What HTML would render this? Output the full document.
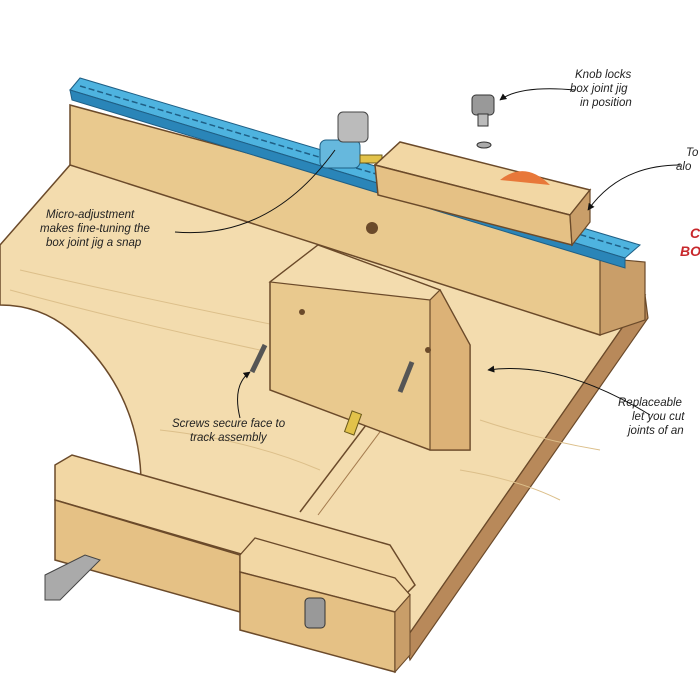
<!DOCTYPE html>
<html><head><meta charset="utf-8"><style>
html,body{margin:0;padding:0;background:#fff;width:700px;height:700px;overflow:hidden}
text{font-family:"Liberation Sans",sans-serif;font-style:italic;font-size:11.5px;fill:#222}
</style></head><body>
<svg width="700" height="700" viewBox="0 0 700 700" xmlns="http://www.w3.org/2000/svg">
<defs>
<marker id="ar" viewBox="0 0 10 10" refX="9" refY="5" markerWidth="7" markerHeight="7" orient="auto"><path d="M0,0 L10,5 L0,10 z" fill="#111"/></marker>
</defs>
<!-- base top -->
<path d="M0,245 L70,165 L645,295 L405,640 L140,510 Q150,400 70,330 Q40,305 0,305 Z" fill="#f3dcae" stroke="#6b4a2a" stroke-width="1.5"/>
<!-- base right edge -->
<path d="M645,295 L648,318 L410,660 L405,640 Z" fill="#b8895a" stroke="#6b4a2a" stroke-width="1.2"/>
<!-- grain lines -->
<g stroke="#dcbf8a" stroke-width="1" fill="none">
<path d="M20,270 Q150,300 300,330"/><path d="M10,290 Q120,320 260,350"/><path d="M160,430 Q250,440 320,470"/><path d="M480,420 Q540,440 600,450"/><path d="M460,470 Q520,480 560,500"/>
</g>
<!-- slot -->
<path d="M300,512 L385,400" stroke="#6b4a2a" stroke-width="1.5"/>
<path d="M318,515 L400,405" stroke="#a57c4f" stroke-width="1"/>
<!-- back fence front face -->
<path d="M70,105 L625,255 L600,335 L70,165 Z" fill="#e9c98e" stroke="#6b4a2a" stroke-width="1.5"/>
<path d="M600,258 L645,262 L645,320 L600,335 Z" fill="#c99e69" stroke="#6b4a2a" stroke-width="1.2"/>
<!-- T-track -->
<path d="M70,90 L80,78 L640,245 L625,258 Z" fill="#4eb3df" stroke="#1f5f85" stroke-width="1"/>
<path d="M72,100 L70,90 L625,258 L625,268 Z" fill="#2a85b8" stroke="#1f5f85" stroke-width="1"/>
<path d="M80,86 L632,250" stroke="#1f5f85" stroke-width="1.5" stroke-dasharray="6 3"/>
<!-- micro adjust -->
<rect x="320" y="140" width="40" height="28" rx="6" fill="#66b8dd" stroke="#1f5f85"/>
<rect x="338" y="112" width="30" height="30" rx="5" fill="#bbb" stroke="#444"/>
<rect x="360" y="155" width="22" height="8" fill="#e2c24a" stroke="#6b5a1a"/>
<!-- stop block -->
<path d="M375,165 L400,142 L590,190 L570,215 Z" fill="#f2d7a4" stroke="#6b4a2a" stroke-width="1.5"/>
<path d="M375,165 L570,215 L572,245 L378,195 Z" fill="#e5c185" stroke="#6b4a2a" stroke-width="1.5"/>
<path d="M570,215 L590,190 L590,222 L572,245 Z" fill="#c99e69" stroke="#6b4a2a" stroke-width="1.2"/>
<!-- blade -->
<path d="M500,180 Q525,160 550,185 Z" fill="#e8783a"/>
<!-- knob -->
<rect x="472" y="95" width="22" height="20" rx="4" fill="#999" stroke="#333"/>
<rect x="478" y="114" width="10" height="12" fill="#bbb" stroke="#333"/>
<ellipse cx="484" cy="145" rx="7" ry="3" fill="#aaa" stroke="#333"/>
<circle cx="372" cy="228" r="6" fill="#6b4a2a"/>
<!-- replaceable face -->
<path d="M270,282 L318,245 L440,290 L470,345 L470,450 L430,450 L270,390 Z" fill="#e9c98e" stroke="#6b4a2a" stroke-width="1.5"/>
<path d="M270,282 L318,245 L440,290 L430,300 Z" fill="#f3dcae" stroke="#6b4a2a" stroke-width="1.2"/>
<path d="M430,300 L440,290 L470,345 L470,450 L430,450 Z" fill="#dcb277" stroke="#6b4a2a" stroke-width="1.2"/>
<circle cx="302" cy="312" r="3" fill="#6b4a2a"/><circle cx="428" cy="350" r="3" fill="#6b4a2a"/>
<!-- screws -->
<path d="M265,345 L252,372" stroke="#555" stroke-width="5"/>
<path d="M412,362 L400,392" stroke="#555" stroke-width="5"/>
<rect x="348" y="412" width="10" height="22" fill="#e2c24a" stroke="#6b5a1a" transform="rotate(20 353 423)"/>
<!-- front fence -->
<path d="M55,465 L72,455 L390,545 L415,585 L400,600 L55,500 Z" fill="#f2d7a4" stroke="#6b4a2a" stroke-width="1.5"/>
<path d="M55,500 L240,555 L240,612 L55,560 Z" fill="#e5c185" stroke="#6b4a2a" stroke-width="1.5"/>
<!-- clamp block -->
<path d="M240,555 L255,538 L395,578 L410,595 L395,612 L240,572 Z" fill="#f2d7a4" stroke="#6b4a2a" stroke-width="1.3"/>
<path d="M240,572 L395,612 L395,672 L240,630 Z" fill="#e5c185" stroke="#6b4a2a" stroke-width="1.5"/>
<path d="M395,612 L410,595 L410,655 L395,672 Z" fill="#c99e69" stroke="#6b4a2a"/>
<rect x="305" y="598" width="20" height="30" rx="4" fill="#999" stroke="#333"/>
<!-- runner -->
<path d="M45,575 L85,555 L100,560 L60,600 L45,600 Z" fill="#aaa" stroke="#444"/>
<!-- labels -->
<text x="575" y="78">Knob locks</text><text x="570" y="92">box joint jig</text><text x="580" y="106">in position</text>
<path d="M575,90 Q520,85 500,100" stroke="#111" fill="none" marker-end="url(#ar)"/>
<text x="686" y="156">To</text><text x="676" y="170">alo</text>
<path d="M680,165 Q620,165 588,210" stroke="#111" fill="none" marker-end="url(#ar)"/>
<text x="46" y="218">Micro-adjustment</text><text x="40" y="232">makes fine-tuning the</text><text x="46" y="246">box joint jig a snap</text>
<path d="M175,232 Q270,240 335,150" stroke="#111" fill="none"/>
<text x="690" y="238" style="fill:#c8282c;font-weight:bold;font-size:14px">C</text>
<text x="680" y="256" style="fill:#c8282c;font-weight:bold;font-size:14px">BO</text>
<text x="172" y="427">Screws secure face to</text><text x="190" y="441">track assembly</text>
<path d="M240,418 Q232,385 250,372" stroke="#111" fill="none" marker-end="url(#ar)"/>
<text x="618" y="406">Replaceable</text><text x="632" y="420">let you cut</text><text x="628" y="434">joints of an</text>
<path d="M650,415 Q560,360 488,370" stroke="#111" fill="none" marker-end="url(#ar)"/>
</svg>
</body></html>
